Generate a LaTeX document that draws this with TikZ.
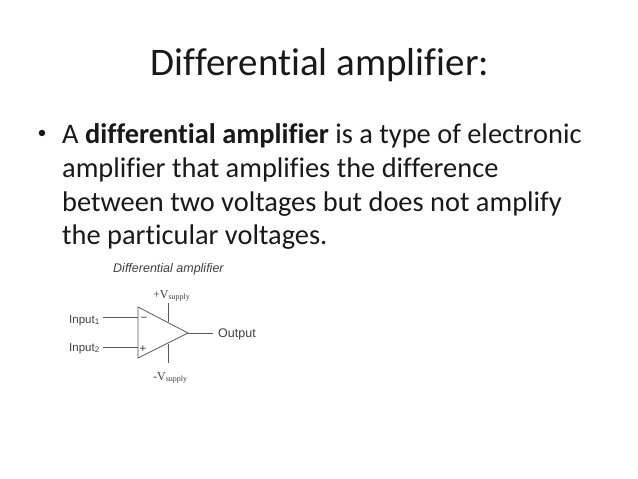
\documentclass[tikz,border=0pt]{standalone}
\usepackage{fontspec}
\setmainfont[Ligatures=NoCommon]{Carlito}
\newfontfamily\helv{Liberation Sans}
\newfontfamily\tms{Liberation Serif}
\usepackage{tikz}

\begin{document}
\begin{tikzpicture}[x=1pt,y=-1pt]
\tikzstyle{bodyline}=[anchor=base west, inner sep=0pt, font=\fontsize{28.4}{30}\selectfont, text=black!90]
\tikzstyle{amplabel}=[anchor=base west, inner sep=0pt, font=\helv\fontsize{11.5}{13}\selectfont, text=black!75]
\tikzstyle{supplylabel}=[anchor=base west, inner sep=0pt, font=\tms\fontsize{12}{14}\selectfont, text=black!75]
\tikzstyle{wire}=[draw=black!65, line width=0.8pt]

\useasboundingbox (0,0) rectangle (638,479);
\fill[white] (0,0) rectangle (638,479);

\draw (320,75) node[anchor=base, inner sep=0pt, font=\fontsize{39}{44}\selectfont, text=black!90] (title) {Differential amplifier:};

\draw (42,138) node[bodyline, anchor=base, font=\fontsize{18}{20}\selectfont] (bullet) {•};
\draw (62,143) node[bodyline] (line0) {A \textbf{differential amplifier} is a type of electronic};
\draw (62,177) node[bodyline] (line1) {amplifier that amplifies the difference};
\draw (62,211) node[bodyline] (line2) {between two voltages but does not amplify};
\draw (62,244) node[bodyline] (line3) {the particular voltages.};

\draw (113,272) node[amplabel, font=\helv\itshape\fontsize{12.5}{14}\selectfont] (caption) {Differential amplifier};
\draw (69,323) node[amplabel] (in1) {Input\textsubscript{1}};
\draw (69,351) node[amplabel] (in2) {Input\textsubscript{2}};
\draw (218,337) node[amplabel, font=\helv\fontsize{12.5}{14}\selectfont] (out) {Output};
\draw (153,298) node[supplylabel] (vplus) {+V\textsubscript{supply}};
\draw (153,380) node[supplylabel] (vminus) {-V\textsubscript{supply}};

\coordinate (tl) at (138,307);
\coordinate (bl) at (138,358);
\coordinate (apex) at (188,333);
\coordinate (a1) at (138,317);
\coordinate (a2) at (138,347);
\coordinate (w1) at (103,317);
\coordinate (w2) at (103,347);
\coordinate (wout) at (213,333);
\coordinate (st) at (168,303);
\coordinate (sta) at (168,322);
\coordinate (sb) at (168,363);
\coordinate (sba) at (168,344);

\draw[wire] (tl) -- (apex) -- (bl) -- cycle;
\draw[wire] (w1) -- (a1);
\draw[wire] (w2) -- (a2);
\draw[wire] (apex) -- (wout);
\draw[wire] (st) -- (sta);
\draw[wire] (sb) -- (sba);

\draw (144,319) node[amplabel, anchor=center] (minus) {−};
\draw (143,349) node[amplabel, anchor=center] (plus) {+};
\end{tikzpicture}
\end{document}
